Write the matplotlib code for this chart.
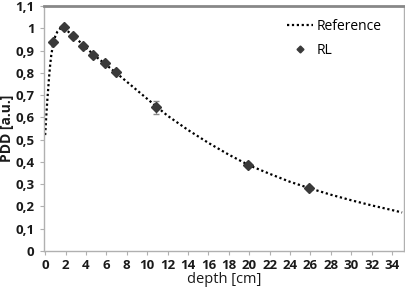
import numpy as np
import matplotlib
matplotlib.use('Agg')
import matplotlib.pyplot as plt
from matplotlib.ticker import FuncFormatter, MultipleLocator
from matplotlib.lines import Line2D

# reference PDD curve (dotted)
ref_depth = [0, 0.1, 0.2, 0.3, 0.4, 0.5, 0.6, 0.8, 1.0, 1.2, 1.5, 1.8, 2, 3, 4, 5, 6, 7, 8,
             10, 12, 14, 16, 18, 20, 22, 24, 26, 28, 30, 32, 34, 35]
ref_pdd = [0.52, 0.60, 0.67, 0.73, 0.79, 0.84, 0.88, 0.935, 0.965, 0.985, 1.0, 1.0, 0.995,
           0.957, 0.912, 0.872, 0.835, 0.798, 0.76, 0.683, 0.607, 0.543, 0.485, 0.432,
           0.384, 0.346, 0.31, 0.28, 0.252, 0.227, 0.204, 0.183, 0.172]

# RL measurements
rl_depth = [0.75, 1.8, 2.7, 3.7, 4.7, 5.9, 6.9, 10.85, 19.9, 25.9]
rl_pdd = [0.938, 1.004, 0.967, 0.922, 0.88, 0.843, 0.802, 0.645, 0.385, 0.281]
rl_err = [0.005, 0.005, 0.005, 0.005, 0.005, 0.005, 0.005, 0.03, 0.008, 0.008]

plt.rcParams['font.family'] = ['Open Sans', 'DejaVu Sans']

fig = plt.figure(figsize=(4.05, 2.95), dpi=100)
ax = fig.add_axes([0.109, 0.150, 0.889, 0.8295])

ax.plot(ref_depth, ref_pdd, linestyle=(0, (1, 1.2)), color='black', lw=1.6)
ax.errorbar(rl_depth, rl_pdd, yerr=rl_err, fmt='D', color='#3a3a3a', ms=5,
            ecolor='#888888', elinewidth=0.8, capsize=2)

ax.set_xlim(-0.1, 35.2)
ax.set_ylim(0, 1.1)
ax.xaxis.set_major_locator(MultipleLocator(2))
ax.yaxis.set_major_locator(MultipleLocator(0.1))

def comma(v, pos):
    s = ('%.1f' % v).rstrip('0').rstrip('.')
    return s.replace('.', ',')

ax.yaxis.set_major_formatter(FuncFormatter(comma))
ax.xaxis.set_major_formatter(FuncFormatter(lambda v, p: '%d' % round(v)))

for s in ['left', 'bottom', 'right']:
    ax.spines[s].set_color('#b0b0b0')
    ax.spines[s].set_linewidth(1)
ax.spines['top'].set_color('#888888')
ax.spines['top'].set_linewidth(2)

ax.tick_params(axis='both', colors='#b0b0b0', labelcolor='#1a1a1a', length=3, width=0.8,
               labelsize=9.5)
ax.tick_params(axis='x', pad=3)
ax.tick_params(axis='y', pad=4)
for lab in ax.get_xticklabels() + ax.get_yticklabels():
    lab.set_fontweight('bold')

ax.set_xlabel('depth [cm]', fontsize=10.5, labelpad=0, color='#1a1a1a')
ax.set_ylabel('PDD [a.u.]', fontsize=10, fontweight='bold', labelpad=1, color='#1a1a1a')

handles = [Line2D([], [], linestyle=(0, (1, 1.2)), color='black', lw=1.6),
           Line2D([], [], linestyle='none', marker='D', color='#3a3a3a', ms=3.5)]
leg = fig.legend(handles, ['Reference', 'RL'], loc='upper left',
                 bbox_to_anchor=(287 / 405, 1 - 19 / 295), frameon=False, fontsize=10,
                 handlelength=1.85, handletextpad=0.3, borderpad=0, borderaxespad=0,
                 labelspacing=0.65)

fig.savefig('out.png', dpi=100)
